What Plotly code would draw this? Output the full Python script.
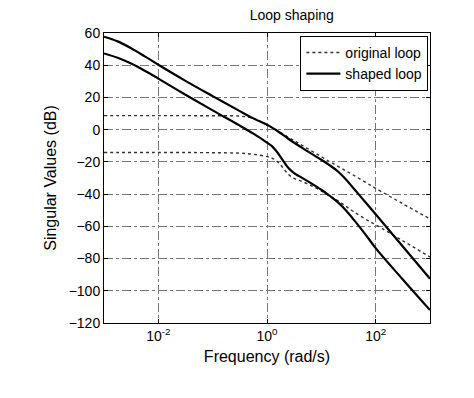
import plotly.graph_objects as go

freq = [0.001, 0.00178, 0.00316, 0.00562, 0.01, 0.0316, 0.1, 0.316, 0.562, 1.0,
        1.26, 1.58, 2.0, 2.51, 3.16, 3.98, 6.31, 10.0, 14.1, 20.0, 28.2, 39.8,
        63.1, 100.0, 316.0, 1000.0]

orig_top = [8.7, 8.7, 8.7, 8.7, 8.7, 8.7, 8.6, 8.4, 7.0, 3.0,
            1.2, -0.7, -2.8, -4.8, -6.8, -8.8, -12.8, -16.8, -19.8, -22.6, -25.5, -28.4,
            -32.4, -36.4, -46.0, -55.4]
orig_bottom = [-14.2, -14.2, -14.2, -14.2, -14.2, -14.2, -14.3, -14.6, -15.3, -16.7,
               -17.8, -20.0, -24.0, -28.0, -30.3, -31.5, -34.5, -38.0, -41.0, -44.0, -47.5, -51.0,
               -55.3, -59.0, -69.0, -79.0]
shaped_top = [57.7, 54.8, 50.5, 45.5, 40.3, 30.3, 20.8, 11.5, 7.0, 3.0,
              1.1, -1.0, -3.4, -5.8, -8.1, -10.3, -14.6, -18.7, -22.0, -25.8, -30.8, -36.7,
              -44.6, -52.5, -72.5, -92.5]
shaped_bottom = [47.3, 44.6, 41.0, 36.6, 31.7, 21.7, 12.0, 2.5, -2.5, -8.0,
                 -10.5, -14.5, -19.5, -24.0, -27.0, -29.0, -33.0, -37.3, -41.0, -45.0, -50.0, -56.0,
                 -64.5, -73.5, -93.0, -112.0]

x_tickvals = [0.01, 1, 100]
x_ticktext = ["10<sup>-2</sup>", "10<sup>0</sup>", "10<sup>2</sup>"]
y_tickvals = [-120, -100, -80, -60, -40, -20, 0, 20, 40, 60]

fig = go.Figure()
orig_style = dict(color="#333333", width=1.4, dash="dot", shape="spline")
shaped_style = dict(color="black", width=2.2, shape="spline")

fig.add_trace(go.Scatter(x=freq, y=orig_top, mode="lines", line=orig_style,
                         name="original loop"))
fig.add_trace(go.Scatter(x=freq, y=orig_bottom, mode="lines", line=orig_style,
                         showlegend=False))
fig.add_trace(go.Scatter(x=freq, y=shaped_top, mode="lines", line=shaped_style,
                         name="shaped loop"))
fig.add_trace(go.Scatter(x=freq, y=shaped_bottom, mode="lines", line=shaped_style,
                         showlegend=False))

font_family = "Liberation Sans, Arial, sans-serif"
fig.update_layout(
    width=466, height=390,
    margin=dict(l=96, r=44, t=25, b=75, autoexpand=False),
    paper_bgcolor="white", plot_bgcolor="white",
    font=dict(family=font_family, size=13, color="black"),
    title=dict(text="Loop shaping", xref="container", x=0.609, xanchor="center",
               yref="container", y=0.995, yanchor="top",
               font=dict(size=14, color="black")),
    showlegend=True,
    legend=dict(x=0.995, y=0.99, xanchor="right", yanchor="top",
                bgcolor="white", bordercolor="black", borderwidth=1,
                font=dict(size=14), tracegroupgap=0, itemwidth=34),
)
fig.update_xaxes(type="log", range=[-3, 3], tickvals=x_tickvals, ticktext=x_ticktext,
                 tickfont=dict(size=14),
                 showgrid=True, gridcolor="#777777", griddash="dashdot", gridwidth=1,
                 showline=True, linecolor="black", linewidth=1, mirror="ticks",
                 ticks="inside", ticklen=4, tickcolor="black", automargin=False,
                 title=dict(text="Frequency (rad/s)", standoff=8),
                 zeroline=False)
fig.update_yaxes(range=[-120, 60], tickvals=y_tickvals,
                 tickfont=dict(size=14),
                 showgrid=True, gridcolor="#777777", griddash="dashdot", gridwidth=1,
                 showline=True, linecolor="black", linewidth=1, mirror="ticks",
                 ticks="inside", ticklen=4, tickcolor="black", automargin=False,
                 title=dict(text="Singular Values (dB)", standoff=8),
                 zeroline=False)

fig.write_html("out.html")
